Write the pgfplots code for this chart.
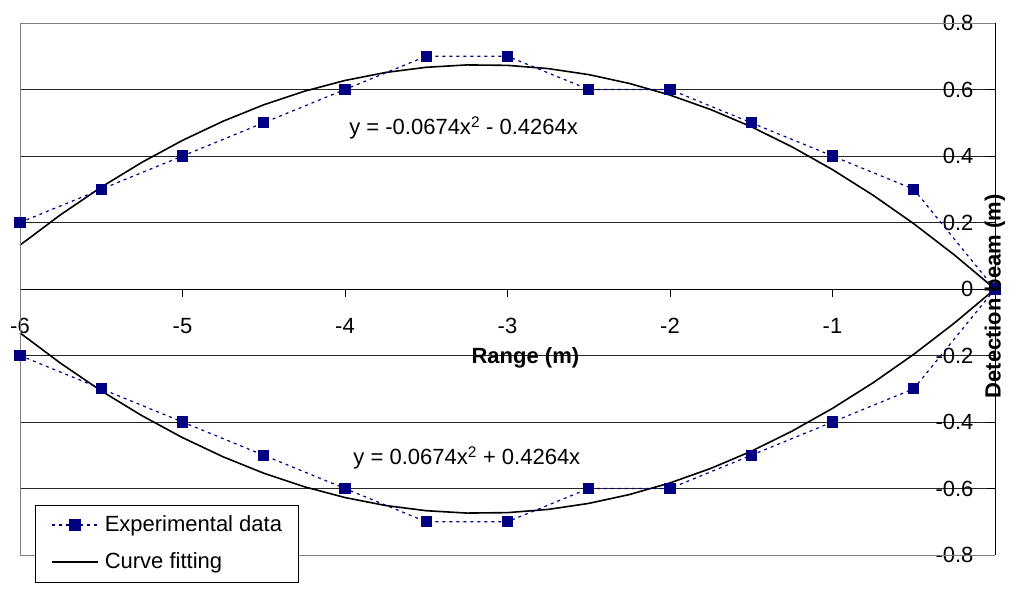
\documentclass[border=0pt]{standalone}
\usepackage{fontspec}
\setmainfont{Liberation Sans}
\usepackage{pgfplots}
\pgfplotsset{compat=1.18}
\definecolor{navy}{RGB}{0,0,128}
\newcommand{\chartfont}{\fontsize{22bp}{26bp}\selectfont}
\begin{document}
\chartfont
\begin{tikzpicture}
\useasboundingbox (-20bp,-35bp) rectangle (1004bp,555bp);
\begin{axis}[
  at={(0,0)}, anchor=south west,
  scale only axis, width=975bp, height=532bp,
  xmin=-6, xmax=0, ymin=-0.8, ymax=0.8,
  axis x line=middle, axis y line=right,
  x axis line style={-, black, line width=1bp},
  y axis line style={-, black, line width=1bp},
  xtick={-6,-5,-4,-3,-2,-1},
  xticklabels={-6,-5,-4,-3,-2,-1},
  ytick={-0.8,-0.6,-0.4,-0.2,0,0.2,0.4,0.6,0.8},
  yticklabels={-0.8,-0.6,-0.4,-0.2,0,0.2,0.4,0.6,0.8},
  xtick align=outside, ytick align=inside,
  major tick length=8bp,
  tick style={black, line width=0.8bp},
  ymajorgrids,
  major grid style={black!85, line width=0.9bp},
  tick label style={font=\chartfont},
  xticklabel style={anchor=north, yshift=-14bp},
  yticklabel style={anchor=east, xshift=-14bp},
  every axis x label/.style={at={(axis cs:-2.89,-0.207)}, anchor=center, font=\chartfont\bfseries},
  every axis y label/.style={at={(axis cs:0,-0.022)}, rotate=90, anchor=center, font=\chartfont\bfseries},
  xlabel={Range (m)},
  ylabel={Detection beam (m)},
  legend style={at={(axis cs:-5.908,-0.650)}, anchor=north west, draw=black, fill=white,
    font=\chartfont, inner xsep=16bp, inner ysep=10bp, row sep=18bp, column sep=6bp,
    nodes={inner sep=0pt}},
  legend cell align=left,
  legend image code/.code={\draw[mark repeat=2,mark phase=2] plot coordinates {(0bp,0bp) (23bp,0bp) (46bp,0bp)};},
  clip=false,
]
\addlegendimage{navy, dash pattern=on 3bp off 4bp, line width=1.2bp, mark=square*, mark size=5bp, mark options={solid, fill=navy, draw=navy}}
\addlegendentry{Experimental data}
\addlegendimage{black, line width=1.6bp}
\addlegendentry{Curve fitting}

\addplot[forget plot, black, line width=1.6bp] coordinates {
(-6,0.132) (-5.75,0.2234) (-5.5,0.3064) (-5.25,0.3809) (-5,0.447) (-4.75,0.5047)
(-4.5,0.554) (-4.25,0.5948) (-4,0.6272) (-3.75,0.6512) (-3.5,0.6668) (-3.25,0.6739)
(-3,0.6726) (-2.75,0.6629) (-2.5,0.6448) (-2.25,0.6182) (-2,0.5832) (-1.75,0.5398)
(-1.5,0.488) (-1.25,0.4277) (-1,0.359) (-0.75,0.2819) (-0.5,0.1964) (-0.25,0.1024) (0,0)
};
\addplot[forget plot, black, line width=1.6bp] coordinates {
(-6,-0.132) (-5.75,-0.2234) (-5.5,-0.3064) (-5.25,-0.3809) (-5,-0.447) (-4.75,-0.5047)
(-4.5,-0.554) (-4.25,-0.5948) (-4,-0.6272) (-3.75,-0.6512) (-3.5,-0.6668) (-3.25,-0.6739)
(-3,-0.6726) (-2.75,-0.6629) (-2.5,-0.6448) (-2.25,-0.6182) (-2,-0.5832) (-1.75,-0.5398)
(-1.5,-0.488) (-1.25,-0.4277) (-1,-0.359) (-0.75,-0.2819) (-0.5,-0.1964) (-0.25,-0.1024) (0,0)
};
\addplot[forget plot, navy, dash pattern=on 3bp off 4bp, line width=1.2bp, mark=square*, mark size=5bp, mark options={solid, fill=navy, draw=navy}] coordinates {
(-6,0.2) (-5.5,0.3) (-5,0.4) (-4.5,0.5) (-4,0.6) (-3.5,0.7) (-3,0.7) (-2.5,0.6) (-2,0.6) (-1.5,0.5) (-1,0.4) (-0.5,0.3) (0,0)
};
\addplot[forget plot, navy, dash pattern=on 3bp off 4bp, line width=1.2bp, mark=square*, mark size=5bp, mark options={solid, fill=navy, draw=navy}] coordinates {
(-6,-0.2) (-5.5,-0.3) (-5,-0.4) (-4.5,-0.5) (-4,-0.6) (-3.5,-0.7) (-3,-0.7) (-2.5,-0.6) (-2,-0.6) (-1.5,-0.5) (-1,-0.4) (-0.5,-0.3) (0,0)
};
\draw[gray, line width=1bp] (rel axis cs:1,1) -- (rel axis cs:0,1) -- (rel axis cs:0,0) -- (rel axis cs:1,0);
\node[font=\chartfont] at (axis cs:-3.27,0.484) {y = -0.0674x\textsuperscript{2} - 0.4264x};
\node[font=\chartfont] at (axis cs:-3.25,-0.508) {y = 0.0674x\textsuperscript{2} + 0.4264x};
\end{axis}
\end{tikzpicture}
\end{document}
